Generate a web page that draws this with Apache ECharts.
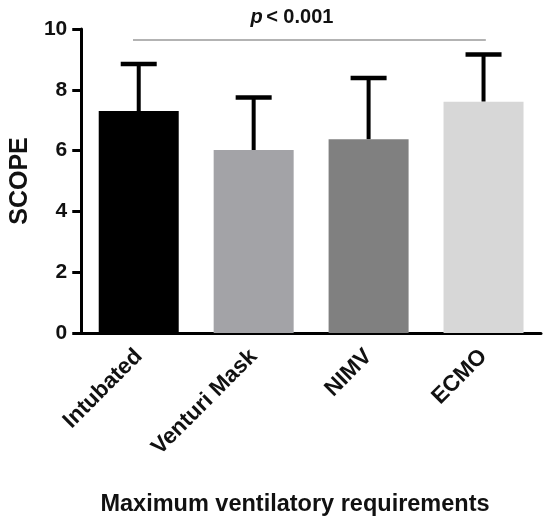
<!DOCTYPE html>
<html><head><meta charset="utf-8">
<script src="https://cdn.jsdelivr.net/npm/echarts@6/dist/echarts.min.js"></script>
<style>html,body{margin:0;padding:0;background:#fff}#c{width:550px;height:527px}</style>
</head><body><div id="c"></div>
<script>
var categories = ['Intubated', 'Venturi Mask', 'NIMV', 'ECMO'];
var means = [7.30, 6.02, 6.37, 7.61];
var errorTops = [8.85, 7.75, 8.39, 9.16];
var barColors = ['#000000', '#a3a3a7', '#808080', '#d7d7d7'];
var yTicks = [0, 2, 4, 6, 8, 10];
var pLevel = 9.64;
var pLineFrom = -0.05;
var pLineTo = 3.02;
var xTitle = 'Maximum ventilatory requirements';
var yTitle = 'SCOPE';

var chart = echarts.init(document.getElementById('c'));
var FONT = 'Liberation Sans, Arial, sans-serif';
chart.setOption({
  animation: false,
  grid: {left: 81, right: 9, top: 29, bottom: 194, containLabel: false},
  xAxis: {
    type: 'category', data: categories,
    axisLine: {lineStyle: {color: '#000', width: 3}},
    axisTick: {alignWithLabel: true, length: 9, lineStyle: {color: '#000', width: 3}},
    axisLabel: {rotate: 45, margin: 20, color: '#111', fontFamily: FONT, fontWeight: 'bold', fontSize: 22.5}
  },
  yAxis: {
    type: 'value', min: yTicks[0], max: yTicks[yTicks.length - 1], interval: 2,
    name: yTitle, nameLocation: 'middle', nameGap: 48, nameRotate: 90,
    nameTextStyle: {color: '#111', fontFamily: FONT, fontWeight: 'bold', fontSize: 25},
    splitLine: {show: false},
    axisLine: {show: true, lineStyle: {color: '#000', width: 3}},
    axisTick: {show: true, inside: false, length: 9, lineStyle: {color: '#000', width: 3}},
    axisLabel: {margin: 14, color: '#111', fontFamily: FONT, fontWeight: 'bold', fontSize: 21}
  },
  series: [
    {
      type: 'bar', barWidth: 80,
      data: means.map(function (v, i) { return {value: v, itemStyle: {color: barColors[i]}}; }),
      z: 2
    },
    {
      type: 'custom', z: 1,
      data: means.map(function (v, i) { return [i, v, errorTops[i]]; }),
      renderItem: function (params, api) {
        var base = api.coord([api.value(0), api.value(1)]);
        var top = api.coord([api.value(0), api.value(2)]);
        var hw = 18;
        return {type: 'group', children: [
          {type: 'line', shape: {x1: base[0], y1: base[1], x2: top[0], y2: top[1]}, style: {stroke: '#000', lineWidth: 4}},
          {type: 'line', shape: {x1: top[0] - hw, y1: top[1], x2: top[0] + hw, y2: top[1]}, style: {stroke: '#000', lineWidth: 4.5}}
        ]};
      }
    }
  ]
});

// p-value bracket positioned through the chart's own scales
var c0 = chart.convertToPixel({gridIndex: 0}, [0, pLevel]);
var c3 = chart.convertToPixel({gridIndex: 0}, [3, pLevel]);
var step = chart.convertToPixel({gridIndex: 0}, [1, pLevel])[0] - c0[0];
var x1 = c0[0] + pLineFrom * step;
var x2 = c3[0] + (pLineTo - 3) * step;
chart.setOption({
  graphic: [
    {type: 'line', shape: {x1: x1, y1: c0[1], x2: x2, y2: c0[1]}, style: {stroke: '#9a9a9a', lineWidth: 1.5}, z: 5},
    {type: 'text', x: 292, y: 17, style: {
      text: '{i|p} {b|< 0.001}', textAlign: 'center', textVerticalAlign: 'middle',
      rich: {
        i: {fontFamily: FONT, fontWeight: 'bold', fontStyle: 'italic', fontSize: 20, fill: '#111'},
        b: {fontFamily: FONT, fontWeight: 'bold', fontSize: 20, fill: '#111'}
      }
    }},
    {type: 'text', x: 295, y: 505, style: {
      text: xTitle, textAlign: 'center', textVerticalAlign: 'middle',
      fontFamily: FONT, fontWeight: 'bold', fontSize: 23.5, fill: '#111'
    }}
  ]
});
</script>
</body></html>
